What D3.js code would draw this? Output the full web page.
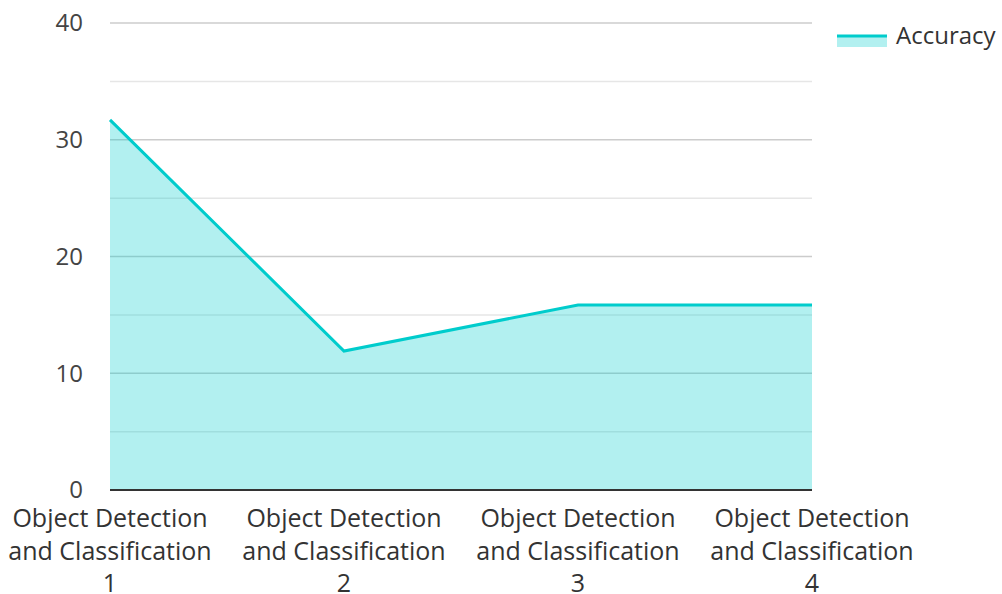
<!DOCTYPE html>
<html><head><meta charset="utf-8">
<script src="https://cdn.jsdelivr.net/npm/d3@7"></script>
<style>body{margin:0;background:#fff}text{font-family:"Open Sans",sans-serif}</style>
</head><body>
<svg id="c" width="1002" height="594"></svg>
<script>
const categories = ["Object Detection and Classification 1","Object Detection and Classification 2","Object Detection and Classification 3","Object Detection and Classification 4"];
const labelLines = [["Object Detection","and Classification","1"],["Object Detection","and Classification","2"],["Object Detection","and Classification","3"],["Object Detection","and Classification","4"]];
const accuracy = [31.7, 11.9, 15.85, 15.85];
const yTicks = [0,10,20,30,40];
const yMinor = [5,15,25,35];
const seriesName = "Accuracy";

const svg = d3.select("#c");
const x = d3.scalePoint().domain(categories).range([110, 812]);
const y = d3.scaleLinear().domain([0,40]).range([490, 23]);

// gridlines
svg.append("g").selectAll("line").data(yMinor).join("line")
  .attr("x1",110).attr("x2",812).attr("y1",d=>y(d)).attr("y2",d=>y(d))
  .attr("stroke","#e6e6e6").attr("stroke-width",1.5);
svg.append("g").selectAll("line").data(yTicks.filter(d=>d>0)).join("line")
  .attr("x1",110).attr("x2",812).attr("y1",d=>y(d)).attr("y2",d=>y(d))
  .attr("stroke","#cccccc").attr("stroke-width",1.5);

const pts = categories.map((c,i)=>[c,accuracy[i]]);
svg.append("path").datum(pts)
  .attr("d", d3.area().x(d=>x(d[0])).y0(y(0)).y1(d=>y(d[1])))
  .attr("fill","rgba(0,204,204,0.3)");
svg.append("path").datum(pts)
  .attr("d", d3.line().x(d=>x(d[0])).y(d=>y(d[1])))
  .attr("fill","none").attr("stroke","#00cccc").attr("stroke-width",3);

// baseline
svg.append("line").attr("x1",110).attr("x2",812).attr("y1",y(0)).attr("y2",y(0))
  .attr("stroke","#333").attr("stroke-width",2);

// y labels
svg.append("g").selectAll("text").data(yTicks).join("text")
  .attr("x",83).attr("y",d=>y(d)).attr("dy","0.35em").attr("text-anchor","end")
  .attr("font-size",24).attr("fill","#444").text(d=>d);

// x labels
const xl = svg.append("g").selectAll("text").data(categories).join("text")
  .attr("text-anchor","middle").attr("font-size",25).attr("fill","#333");
xl.each(function(d,i){
  const t = d3.select(this);
  labelLines[i].forEach((ln,j)=>{
    t.append("tspan").attr("x",x(d)).attr("y",527+j*32.5).text(ln);
  });
});

// legend
const lg = svg.append("g");
lg.append("rect").attr("x",837).attr("y",35).attr("width",50).attr("height",12).attr("fill","rgba(0,204,204,0.3)");
lg.append("line").attr("x1",837).attr("x2",887).attr("y1",36).attr("y2",36).attr("stroke","#00cccc").attr("stroke-width",3);
lg.append("text").attr("x",896).attr("y",44).attr("font-size",24).attr("fill","#333").text(seriesName);
</script>
</body></html>
